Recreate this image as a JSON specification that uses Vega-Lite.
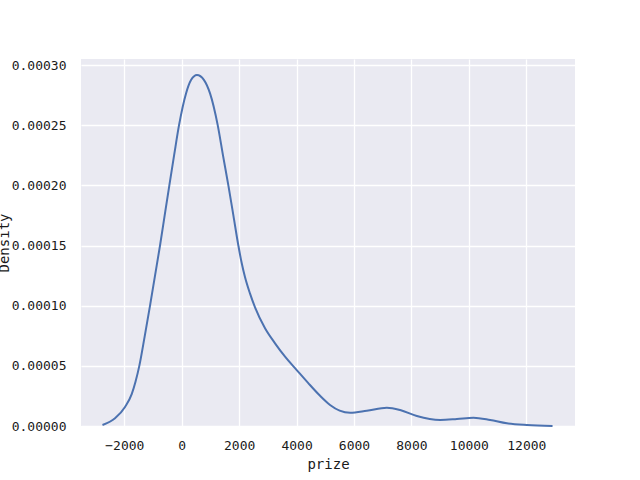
{
  "$schema": "https://vega.github.io/schema/vega-lite/v6.json",
  "autosize": "none",
  "width": 494,
  "height": 367,
  "padding": {"left": 81, "top": 59, "right": 65, "bottom": 54},
  "background": "white",
  "config": {
    "view": {"fill": "#EAEAF2", "stroke": null},
    "axis": {
      "domain": false,
      "ticks": false,
      "grid": true,
      "gridColor": "white",
      "gridWidth": 1.3,
      "gridOpacity": 1,
      "labelFont": "DejaVu Sans Mono",
      "labelFontSize": 13,
      "labelColor": "#1a1a1a",
      "titleFont": "DejaVu Sans Mono",
      "titleFontSize": 14,
      "titleFontWeight": "normal",
      "titleColor": "#1a1a1a"
    }
  },
  "data": {
    "values": [
      {"prize": -2760, "density": 0.0000008},
      {"prize": -2323, "density": 0.0000064},
      {"prize": -1975, "density": 0.0000158},
      {"prize": -1742, "density": 0.0000265},
      {"prize": -1610, "density": 0.0000368},
      {"prize": -1477, "density": 0.00005},
      {"prize": -1290, "density": 0.0000745},
      {"prize": -1104, "density": 0.0001},
      {"prize": -930, "density": 0.000125},
      {"prize": -756, "density": 0.00015},
      {"prize": -594, "density": 0.000175},
      {"prize": -431, "density": 0.0002},
      {"prize": -262, "density": 0.0002255},
      {"prize": -94, "density": 0.00025},
      {"prize": 150, "density": 0.0002764},
      {"prize": 324, "density": 0.0002875},
      {"prize": 530, "density": 0.0002917},
      {"prize": 777, "density": 0.0002875},
      {"prize": 986, "density": 0.0002764},
      {"prize": 1253, "density": 0.00025},
      {"prize": 1440, "density": 0.0002245},
      {"prize": 1624, "density": 0.0002},
      {"prize": 1800, "density": 0.0001748},
      {"prize": 1972, "density": 0.00015},
      {"prize": 2090, "density": 0.0001352},
      {"prize": 2205, "density": 0.0001236},
      {"prize": 2379, "density": 0.0001100},
      {"prize": 2553, "density": 0.0000986},
      {"prize": 2901, "density": 0.0000812},
      {"prize": 3250, "density": 0.0000687},
      {"prize": 3598, "density": 0.0000576},
      {"prize": 4005, "density": 0.0000465},
      {"prize": 4400, "density": 0.0000358},
      {"prize": 4800, "density": 0.0000255},
      {"prize": 5165, "density": 0.0000175},
      {"prize": 5500, "density": 0.0000128},
      {"prize": 5864, "density": 0.000011},
      {"prize": 6446, "density": 0.0000127},
      {"prize": 7143, "density": 0.0000152},
      {"prize": 7606, "density": 0.0000133},
      {"prize": 8188, "density": 0.0000083},
      {"prize": 9000, "density": 0.000005},
      {"prize": 9582, "density": 0.0000058},
      {"prize": 10160, "density": 0.0000069},
      {"prize": 10742, "density": 0.000005},
      {"prize": 11324, "density": 0.0000022},
      {"prize": 12021, "density": 0.0000008},
      {"prize": 12914, "density": 0.0000001}
    ]
  },
  "mark": {"type": "line", "color": "#4C72B0", "strokeWidth": 2, "interpolate": "monotone"},
  "encoding": {
    "x": {
      "field": "prize",
      "type": "quantitative",
      "scale": {"domain": [-3508, 13696], "nice": false, "zero": false},
      "axis": {
        "title": "prize",
        "values": [-2000, 0, 2000, 4000, 6000, 8000, 10000, 12000],
        "format": "d",
        "labelPadding": 13,
        "titleX": 247,
        "titleY": 42,
        "titleBaseline": "alphabetic",
        "titleAlign": "center"
      }
    },
    "y": {
      "field": "density",
      "type": "quantitative",
      "scale": {"domain": [0, 0.000305], "nice": false},
      "axis": {
        "title": "Density",
        "values": [0, 0.00005, 0.0001, 0.00015, 0.0002, 0.00025, 0.0003],
        "format": ".5f",
        "labelPadding": 15,
        "titleX": -72.5,
        "titleY": 183.5,
        "titleAngle": -90,
        "titleBaseline": "alphabetic",
        "titleAlign": "center"
      }
    }
  }
}
